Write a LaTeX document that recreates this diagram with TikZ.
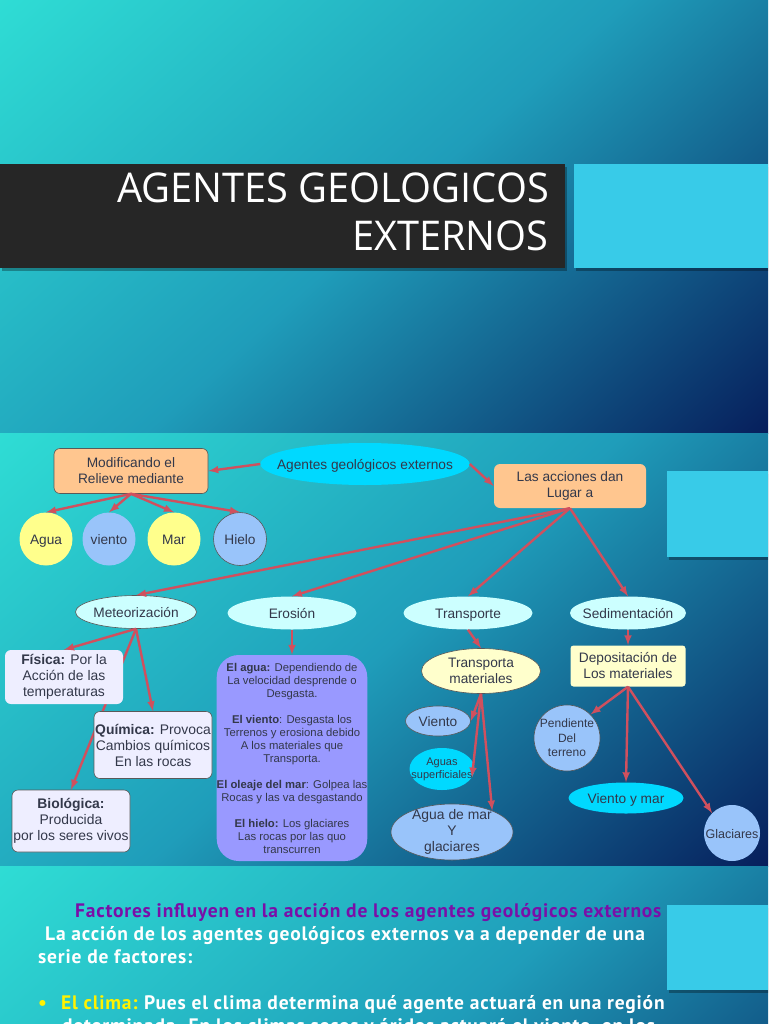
\documentclass[tikz,border=0pt]{standalone}
\usepackage{fontspec}
\usetikzlibrary{shapes.geometric,shadows}
\setmainfont{Liberation Sans}
\newfontfamily\titlefont[FakeStretch=0.97]{Open Sans}
\newfontfamily\bodyfont[LetterSpace=4.1]{PT Sans}
\definecolor{panelA}{HTML}{2FDED5}
\definecolor{panelB}{HTML}{1F9DBA}
\definecolor{panelC}{HTML}{061C5A}
\definecolor{tabcol}{HTML}{38CBE8}
\definecolor{arrowcol}{HTML}{D0505E}
\definecolor{inkcol}{HTML}{33384A}
\definecolor{peach}{HTML}{FFC68F}
\definecolor{lemon}{HTML}{FFFF8C}
\definecolor{cream}{HTML}{FFFFCC}
\definecolor{sky}{HTML}{99C4FA}
\definecolor{vivid}{HTML}{00D9FF}
\definecolor{pale}{HTML}{CCFFFF}
\definecolor{mist}{HTML}{EEEEFF}
\definecolor{lilac}{HTML}{9999FF}
\definecolor{purplehead}{HTML}{7A0FA8}
\pgfdeclareverticalshading{panelfade}{100bp}{color(0bp)=(panelC); color(14bp)=(panelC); color(50bp)=(panelB); color(86bp)=(panelA); color(100bp)=(panelA)}
\begin{document}
\begin{tikzpicture}[
            x = 1pt, y = -1pt,
            panel/.style = {shading = panelfade, shading angle = 42},
            tab/.style = {fill = tabcol, drop shadow = {fill = black, shadow xshift = 2pt, shadow yshift = -3pt, opacity = .3}},
            bubble/.style = {ellipse, inner xsep = -14pt, inner ysep = -6pt, align = center, text = inkcol, font = \fontsize{13.7}{16}\selectfont},
            block/.style = {rectangle, rounded corners = 6pt, inner sep = 0pt, align = center, text = inkcol, font = \fontsize{13.7}{16}\selectfont},
            dot/.style = {circle, inner sep = -6pt, align = center, text = inkcol, font = \fontsize{13.7}{16}\selectfont},
            single/.style = {text height = 13pt, text depth = 3pt},
            edged/.style = {draw = black!65, line width = .6pt},
            big/.style = {font = \fontsize{13.9}{16}\selectfont},
            link/.style = {draw = arrowcol, line width = 2.4pt, -latex},
            plain/.style = {anchor = base west, inner sep = 0pt, text = white, font = \bodyfont\bfseries\fontsize{19.5}{22}\selectfont}
            ]
            \clip (0,0) rectangle (768,1024);
            \shade[panel] (0,0) rectangle (768,433);
            \shade[panel] (0,433) rectangle (768,866);
            \shade[panel] (0,866) rectangle (768,1299);

            % title slide
            \fill[black!85, drop shadow = {fill = black, shadow xshift = 2pt, shadow yshift = -3pt, opacity = .3}] (0,164) rectangle (565,268);
            \path[tab] (574,164) rectangle (768,268);
            \node[anchor = north east, align = right, inner sep = 0pt, text = white, font = \titlefont\fontsize{41}{48}\selectfont] (title) at (549,173) {AGENTES GEOLOGICOS\\EXTERNOS};

            % concept map
            \path[tab] (667,471) rectangle (768,557);
            \node[block, edged, fill = peach, minimum width = 154pt, minimum height = 45pt] (relieve) at (131,471) {Modificando el\\Relieve mediante};
            \node[bubble, single, fill = vivid, minimum width = 206pt, minimum height = 42pt] (agentes) at (365,464) {Agentes geológicos externos};
            \node[block, fill = peach, minimum width = 152pt, minimum height = 44pt] (acciones) at (570,486) {Las acciones dan\\Lugar a};

            \node[dot, single, fill = lemon, minimum width = 53pt] (agua) at (46,539) {Agua};
            \node[dot, single, fill = sky, minimum width = 53pt] (viento) at (109,539) {viento};
            \node[dot, single, fill = lemon, minimum width = 53pt] (mar) at (174,539) {Mar};
            \node[dot, single, edged, fill = sky, minimum width = 53pt] (hielo) at (240,539) {Hielo};

            \node[bubble, single, edged, fill = pale, minimum width = 121pt, minimum height = 33pt] (meteo) at (136,612) {Meteorización};
            \node[bubble, single, fill = pale, minimum width = 129pt, minimum height = 33pt] (erosion) at (292,613) {Erosión};
            \node[bubble, single, fill = pale, minimum width = 129pt, minimum height = 33pt] (transporte) at (468,613) {Transporte};
            \node[bubble, single, fill = pale, minimum width = 116pt, minimum height = 33pt] (sedimento) at (628,613) {Sedimentación};

            \node[block, big, edged, fill = mist, minimum width = 118pt, minimum height = 62pt] (biologica) at (71,821) {\textbf{Biológica:}\\Producida\\por los seres vivos};
            \draw[link] (meteo.south) -- (biologica.north);

            \node[block, big, fill = mist, minimum width = 118pt, minimum height = 54pt] (fisica) at (64,677) {\textbf{Física:} Por la\\Acción de las\\temperaturas};
            \node[block, big, edged, fill = mist, minimum width = 118pt, minimum height = 67pt] (quimica) at (153,745) {\textbf{Química:} Provoca\\Cambios químicos\\En las rocas};
            \node[block, rounded corners = 22pt, fill = lilac, minimum width = 150pt, minimum height = 206pt, font = \fontsize{11.3}{13}\selectfont] (efectos) at (292,758) {\textbf{El agua:} Dependiendo de\\La velocidad desprende o\\Desgasta.\\[13pt]\textbf{El viento}: Desgasta los\\Terrenos y erosiona debido\\A los materiales que\\Transporta.\\[13pt]\textbf{El oleaje del mar}: Golpea las\\Rocas y las va desgastando\\[13pt]\textbf{El hielo:} Los glaciares\\Las rocas por las quo\\transcurren};

            \node[bubble, edged, fill = cream, minimum width = 119pt, minimum height = 45pt] (materiales) at (481,671) {Transporta\\materiales};
            \node[block, rounded corners = 3pt, fill = cream, minimum width = 115pt, minimum height = 41pt] (deposito) at (628,666) {Depositación de\\Los materiales};

            \node[bubble, single, edged, fill = sky, minimum width = 65pt, minimum height = 30pt] (vientob) at (438,721) {Viento};
            \node[bubble, fill = vivid, minimum width = 65pt, minimum height = 42pt, font = \fontsize{11}{13}\selectfont] (aguas) at (442,769) {Aguas\\superficiales};
            \node[bubble, big, edged, fill = sky, minimum width = 122pt, minimum height = 56pt] (aguamar) at (452,832) {Agua de mar\\Y\\glaciares};

            \node[dot, edged, fill = sky, minimum width = 66pt, font = \fontsize{12}{14.5}\selectfont] (pendiente) at (567,738) {Pendiente\\Del\\terreno};
            \node[bubble, single, fill = vivid, minimum width = 115pt, minimum height = 31pt] (vientomar) at (626,798) {Viento y mar};
            \node[dot, single, fill = sky, minimum width = 56pt, font = \fontsize{12.5}{14}\selectfont] (glaciares) at (732,833) {Glaciares};

            \draw[link] (agentes.west) -- (relieve.east);
            \draw[link] (agentes.east) -- (acciones.west);
            \foreach \target in {agua, viento, mar, hielo}
                \draw[link] (relieve.south) -- (\target.north);
            \foreach \target in {meteo, erosion, transporte, sedimento}
                \draw[link] (acciones.south) -- (\target.north);
            \draw[link] (meteo.south) -- (fisica.north);
            \draw[link] (meteo.south) -- (quimica.north);
            \draw[link] (erosion.south) -- (efectos.north);
            \draw[link] (transporte.south) -- (materiales.north);
            \draw[link] (sedimento.south) -- (deposito.north);
            \draw[link] (materiales.south) -- (vientob.east);
            \draw[link] (materiales.south) -- (aguas.-16);
            \draw[link] (materiales.south) -- (aguamar.28);
            \draw[link] (deposito.south) -- (pendiente.north east);
            \draw[link] (deposito.south) -- (vientomar.north);
            \draw[link] (deposito.south) -- (glaciares.north west);

            % factors slide
            \path[tab] (667,905) rectangle (768,990);
            \node[plain, text = purplehead] (factores) at (75,917) {Factores influyen en la acción de los agentes geológicos externos};
            \node[plain] (accion) at (45,940) {La acción de los agentes geológicos externos va a depender de una};
            \node[plain] (serie) at (38,963) {serie de factores:};
            \node[plain, text = yellow] (bala) at (38,1009) {•};
            \node[plain, text = yellow] (clima) at (61,1009) {El clima:};
            \node[plain] (pues) at (144,1009) {Pues el clima determina qué agente actuará en una región};
            \node[plain] (determinada) at (62,1032) {determinada. En los climas secos y áridos actuará el viento, en los};
\end{tikzpicture}
\end{document}
